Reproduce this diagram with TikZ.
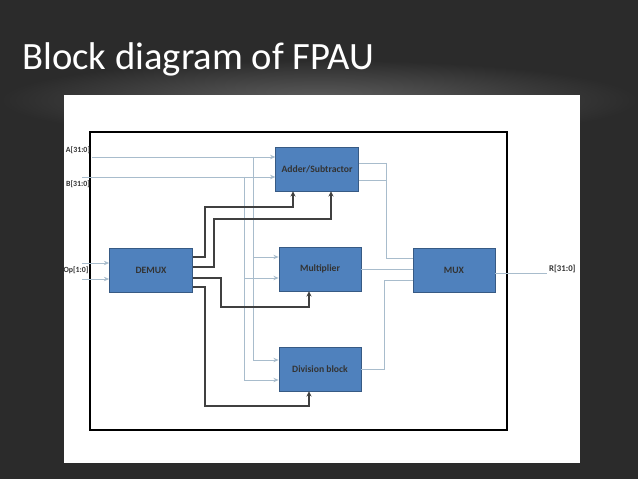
\documentclass[tikz,border=0pt]{standalone}
\usepackage{fontspec}
\setmainfont{Carlito}
\usetikzlibrary{arrows.meta,positioning,calc}
\definecolor{blockblue}{HTML}{4F81BD}
\definecolor{wireblue}{HTML}{A8BCCC}
\definecolor{slide}{HTML}{2B2B2B}

\begin{document}
\begin{tikzpicture}[x=0.02cm, y=-0.02cm, >=Stealth,
    block/.style={rectangle, draw=blockblue!70!black, fill=blockblue, font=\fontsize{5.5}{6}\selectfont\bfseries, text=black!80},
    gin/.style={->, wireblue, line width=0.5pt, >={Stealth[length=3pt,width=2.5pt]}},
    gwire/.style={wireblue, line width=0.5pt},
    ctl/.style={->, black!75, line width=0.8pt, >={Stealth[length=3pt,width=3pt]}},
    pin/.style={font=\fontsize{4.5}{5}\selectfont\bfseries, text=black!80}]
      % Slide background
      \fill[slide] (0,0) rectangle (638,479);
      \shade[inner color=gray!60!slide, outer color=slide] (0,60) rectangle (638,140);
      \node[anchor=base west, text=white, font=\fontsize{22}{26}\selectfont, inner sep=0pt] (title) at (22,70) {Block diagram of FPAU};
      \fill[white] (64,95) rectangle (580,463);
      \draw[black, line width=1.2pt] (90,132) rectangle (507,430);
      
      % Blocks
      \node[block, minimum width=1.64cm, minimum height=0.88cm] (adder) at (317,169) {Adder/Subtractor};
      \node[block, minimum width=1.64cm, minimum height=0.88cm] (mult) at (320,269) {Multiplier};
      \node[block, minimum width=1.64cm, minimum height=0.88cm] (div) at (320,369) {Division block};
      \node[block, minimum width=1.66cm, minimum height=0.88cm] (demux) at (151,270) {DEMUX};
      \node[block, minimum width=1.64cm, minimum height=0.88cm] (mux) at (454,270) {MUX};
      
      % Pins
      \node[pin] (pa) at (78,150) {A[31:0]};
      \node[pin] (pb) at (78,184) {B[31:0]};
      \node[pin] (pop) at (76,270) {Op[1:0]};
      \node[pin, font=\fontsize{5}{6}\selectfont\bfseries, anchor=west, inner sep=1pt] (pr) at (547,269) {R[31:0]};
      \coordinate (ina) at (92,157);
      \coordinate (inb) at (82,177);
      
      % Operand wires
      \draw[gin] (ina) -- (ina -| adder.west);
      \draw[gin] (inb) -- (inb -| adder.west);
      \draw[gwire] (253,157) -- (253,360);
      \draw[gwire] (244,177) -- (244,380);
      \draw[gin] (253,257) -- (mult.west |- 0,257);
      \draw[gin] (244,278) -- (mult.west |- 0,278);
      \draw[gin] (253,360) -- (div.west |- 0,360);
      \draw[gin] (244,380) -- (div.west |- 0,380);
      \draw[gin] (82,263) -- (demux.west |- 0,263);
      \draw[gin] (82,279) -- (demux.west |- 0,279);
      
      % Control lines
      \draw[ctl] (demux.east |- 0,257) -| (205,207) -| (adder.south -| 293,0);
      \draw[ctl] (demux.east |- 0,267) -| (214,219) -| (adder.south -| 331,0);
      \draw[ctl] (demux.east |- 0,278) -| (221,307) -| (mult.south -| 309,0);
      \draw[ctl] (demux.east |- 0,287) -| (205,406) -| (div.south -| 309,0);
      
      % Results to MUX
      \draw[gwire] (adder.east |- 0,163) -- (386,163);
      \draw[gwire] (adder.east |- 0,180) -- (386,180);
      \draw[gwire] (386,163) |- (mux.west |- 0,258);
      \draw[gwire] (mult.east) -- (mult.east -| mux.west);
      \draw[gwire] (div.east) -| (384,280) -- (mux.west |- 0,280);
      \draw[gwire] (mux.east |- 0,273) -- (pr.west |- 0,273);
\end{tikzpicture}
\end{document}
